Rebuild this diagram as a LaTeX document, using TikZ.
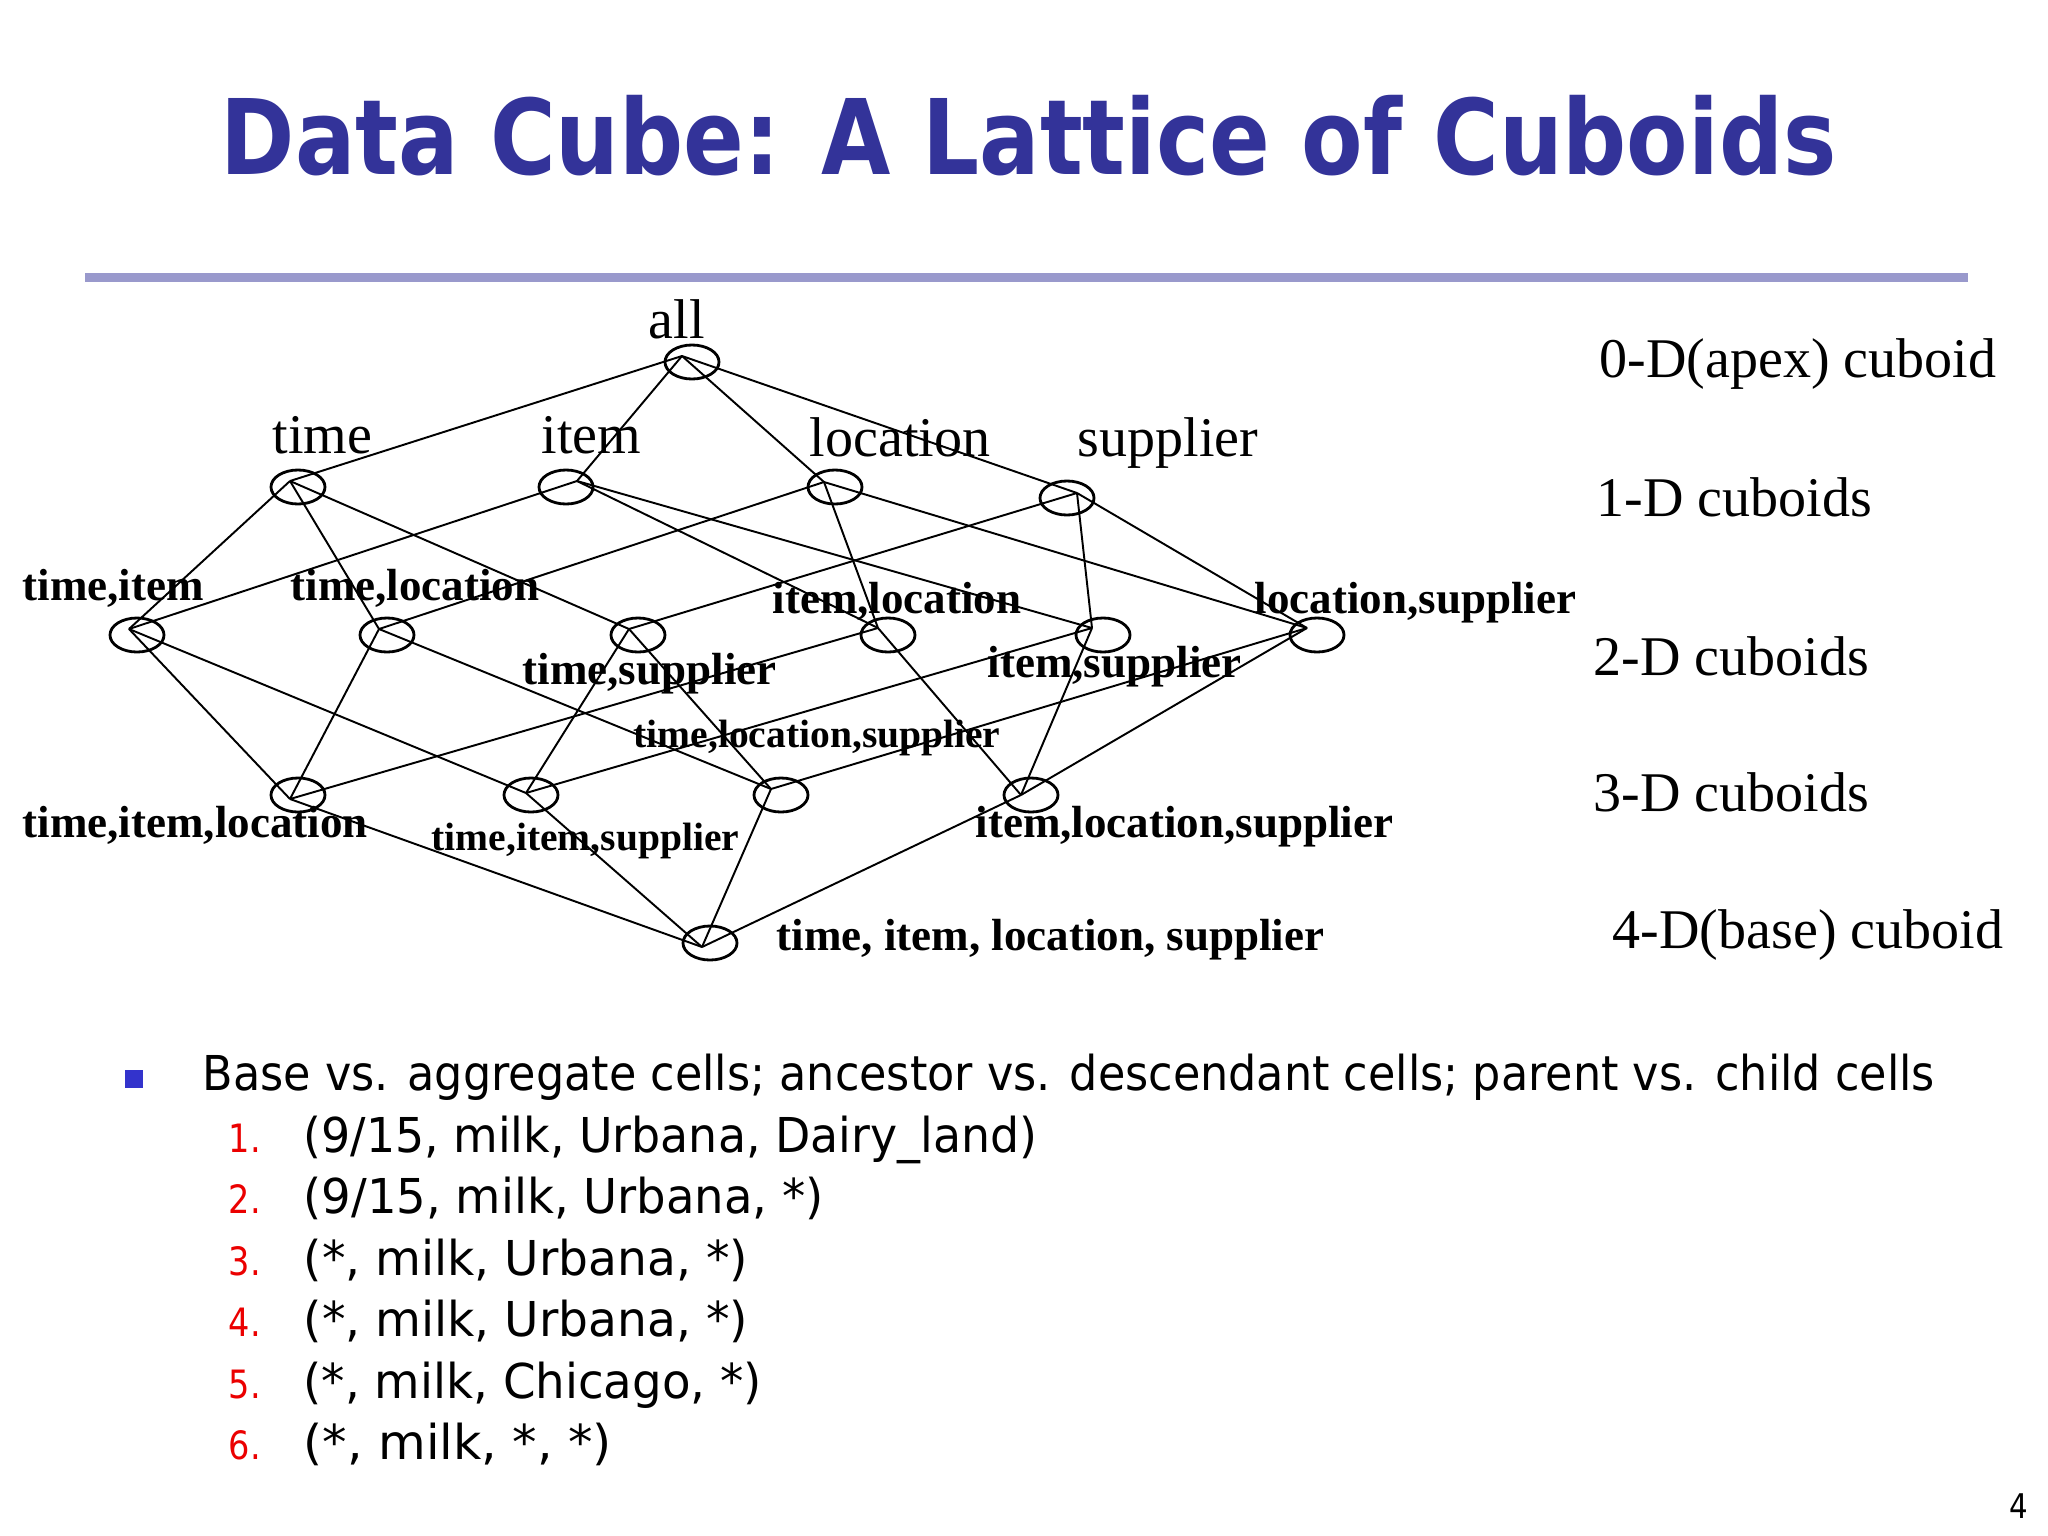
\documentclass[tikz,border=0pt]{standalone}
\usepackage{fontspec}
\usepackage{graphicx}
\setmainfont{Liberation Serif}
\newfontfamily\tahoma{DejaVu Sans}
\usetikzlibrary{shapes.geometric}
\definecolor{titleblue}{RGB}{51,51,153}
\definecolor{rulecol}{RGB}{153,153,204}
\definecolor{bulletblue}{RGB}{51,51,204}
\definecolor{numred}{RGB}{235,0,0}
\newcommand{\fitw}[2]{\resizebox{#1}{\height}{#2}}
\newcommand{\narrow}[1]{\scalebox{0.86}[1]{#1}}
\begin{document}
\begin{tikzpicture}[x=0.01cm,y=-0.01cm,
  cub/.style={ellipse,draw,line width=0.8pt,minimum width=0.54cm,minimum height=0.34cm,inner sep=0pt},
  edge/.style={line width=0.55pt},
  lab/.style={anchor=base west,inner sep=0pt,font=\fontsize{15.93}{18}\selectfont},
  blab/.style={anchor=base west,inner sep=0pt,font=\fontsize{12.8}{15}\selectfont\bfseries},
  sblab/.style={anchor=base west,inner sep=0pt,font=\fontsize{11.24}{13}\selectfont\bfseries},
  txt/.style={anchor=base west,inner sep=0pt,font=\tahoma\fontsize{13.66}{16}\selectfont},
  num/.style={anchor=base west,inner sep=0pt,text=numred,font=\tahoma\fontsize{11.1}{13}\selectfont}]
\fill[white] (0,0) rectangle (2048,1536);
\useasboundingbox (0,0) rectangle (2048,1536);

% title and rule
\node[anchor=base west,inner sep=0pt,text=titleblue,font=\tahoma\bfseries\fontsize{29.66}{34}\selectfont] (title) at (220,174) {\fitw{16.15cm}{Data Cube: A Lattice of Cuboids}};
\fill[rulecol] (85,273) rectangle (1968,282);

% connection points
\coordinate (c-all) at (682,356);
\coordinate (c-t) at (290,481);
\coordinate (c-i) at (577,481);
\coordinate (c-l) at (824,482);
\coordinate (c-s) at (1077,493);
\coordinate (c-ti) at (129,629);
\coordinate (c-tl) at (379,629);
\coordinate (c-ts) at (629,629);
\coordinate (c-il) at (878,628);
\coordinate (c-is) at (1092,628);
\coordinate (c-ls) at (1307,628);
\coordinate (c-til) at (290,799);
\coordinate (c-tis) at (526,793);
\coordinate (c-tls) at (771,789);
\coordinate (c-ils) at (1021,795);
\coordinate (c-base) at (702,947);

% cuboid ellipses
\node[cub] (e-all) at (692,362) {};
\node[cub] (e-t) at (298,487) {};
\node[cub] (e-i) at (566,487) {};
\node[cub] (e-l) at (835,487) {};
\node[cub] (e-s) at (1067,498) {};
\node[cub] (e-ti) at (137,635) {};
\node[cub] (e-tl) at (387,635) {};
\node[cub] (e-ts) at (638,635) {};
\node[cub] (e-il) at (888,635) {};
\node[cub] (e-is) at (1103,635) {};
\node[cub] (e-ls) at (1317,635) {};
\node[cub] (e-til) at (298,795) {};
\node[cub] (e-tis) at (531,795) {};
\node[cub] (e-tls) at (781,795) {};
\node[cub] (e-ils) at (1031,795) {};
\node[cub] (e-base) at (710,943) {};

% edges
\foreach \a/\b in {all/t,all/i,all/l,all/s,
  t/ti,t/tl,t/ts, i/ti,i/il,i/is, l/tl,l/il,l/ls, s/ts,s/is,s/ls,
  ti/til,ti/tis, tl/til,tl/tls, ts/tis,ts/tls, il/til,il/ils, is/tis,is/ils, ls/tls,ls/ils,
  til/base,tis/base,tls/base,ils/base}
  \draw[edge] (c-\a) -- (c-\b);

% lattice labels
\node[lab] (l-all) at (648,338) {all};
\node[lab] (l-t) at (272,453) {time};
\node[lab] (l-i) at (541,453) {item};
\node[lab] (l-l) at (809,456) {location};
\node[lab] (l-s) at (1077,456) {supplier};
\node[blab] (l-ti) at (22,600) {time,item};
\node[blab] (l-tl) at (290,600) {time,location};
\node[blab] (l-il) at (772,613) {item,location};
\node[blab] (l-ls) at (1254,613) {location,supplier};
\node[blab] (l-ts) at (522,684) {time,supplier};
\node[blab] (l-is) at (987,677) {item,supplier};
\node[sblab] (l-tls) at (633,747) {time,location,supplier};
\node[blab] (l-til) at (22,837) {time,item,location};
\node[sblab] (l-tis) at (431,850) {time,item,supplier};
\node[blab] (l-ils) at (975,837) {item,location,supplier};
\node[blab] (l-base) at (776,950) {time, item, location, supplier};

% level labels
\node[lab] (d0) at (1599,377) {0-D(apex) cuboid};
\node[lab] (d1) at (1596,516) {1-D cuboids};
\node[lab] (d2) at (1593,675) {2-D cuboids};
\node[lab] (d3) at (1593,811) {3-D cuboids};
\node[lab] (d4) at (1612,948) {4-D(base) cuboid};

% bullet list
\fill[bulletblue] (125,1070) rectangle (143,1088);
\node[txt] (b0) at (202,1090) {\fitw{17.31cm}{Base vs. aggregate cells; ancestor vs. descendant cells; parent vs. child cells}};
\node[num] (n1) at (228,1152) {\narrow{1.}};
\node[txt] (b1) at (303,1152) {\fitw{7.33cm}{(9/15, milk, Urbana, Dairy\_land)}};
\node[num] (n2) at (228,1213.5) {\narrow{2.}};
\node[txt] (b2) at (303,1213.5) {\fitw{5.20cm}{(9/15, milk, Urbana, *)}};
\node[num] (n3) at (228,1275) {\narrow{3.}};
\node[txt] (b3) at (303,1275) {\fitw{4.44cm}{(*, milk, Urbana, *)}};
\node[num] (n4) at (228,1336.5) {\narrow{4.}};
\node[txt] (b4) at (303,1336.5) {\fitw{4.44cm}{(*, milk, Urbana, *)}};
\node[num] (n5) at (228,1398) {\narrow{5.}};
\node[txt] (b5) at (303,1398) {\fitw{4.58cm}{(*, milk, Chicago, *)}};
\node[num] (n6) at (228,1459.5) {\narrow{6.}};
\node[txt] (b6) at (303,1459.5) {\fitw{3.08cm}{(*, milk, *, *)}};

% page number
\node[anchor=base west,inner sep=0pt,font=\tahoma\fontsize{9.67}{11}\selectfont] (pg) at (2009,1518) {\narrow{4}};
\end{tikzpicture}
\end{document}
